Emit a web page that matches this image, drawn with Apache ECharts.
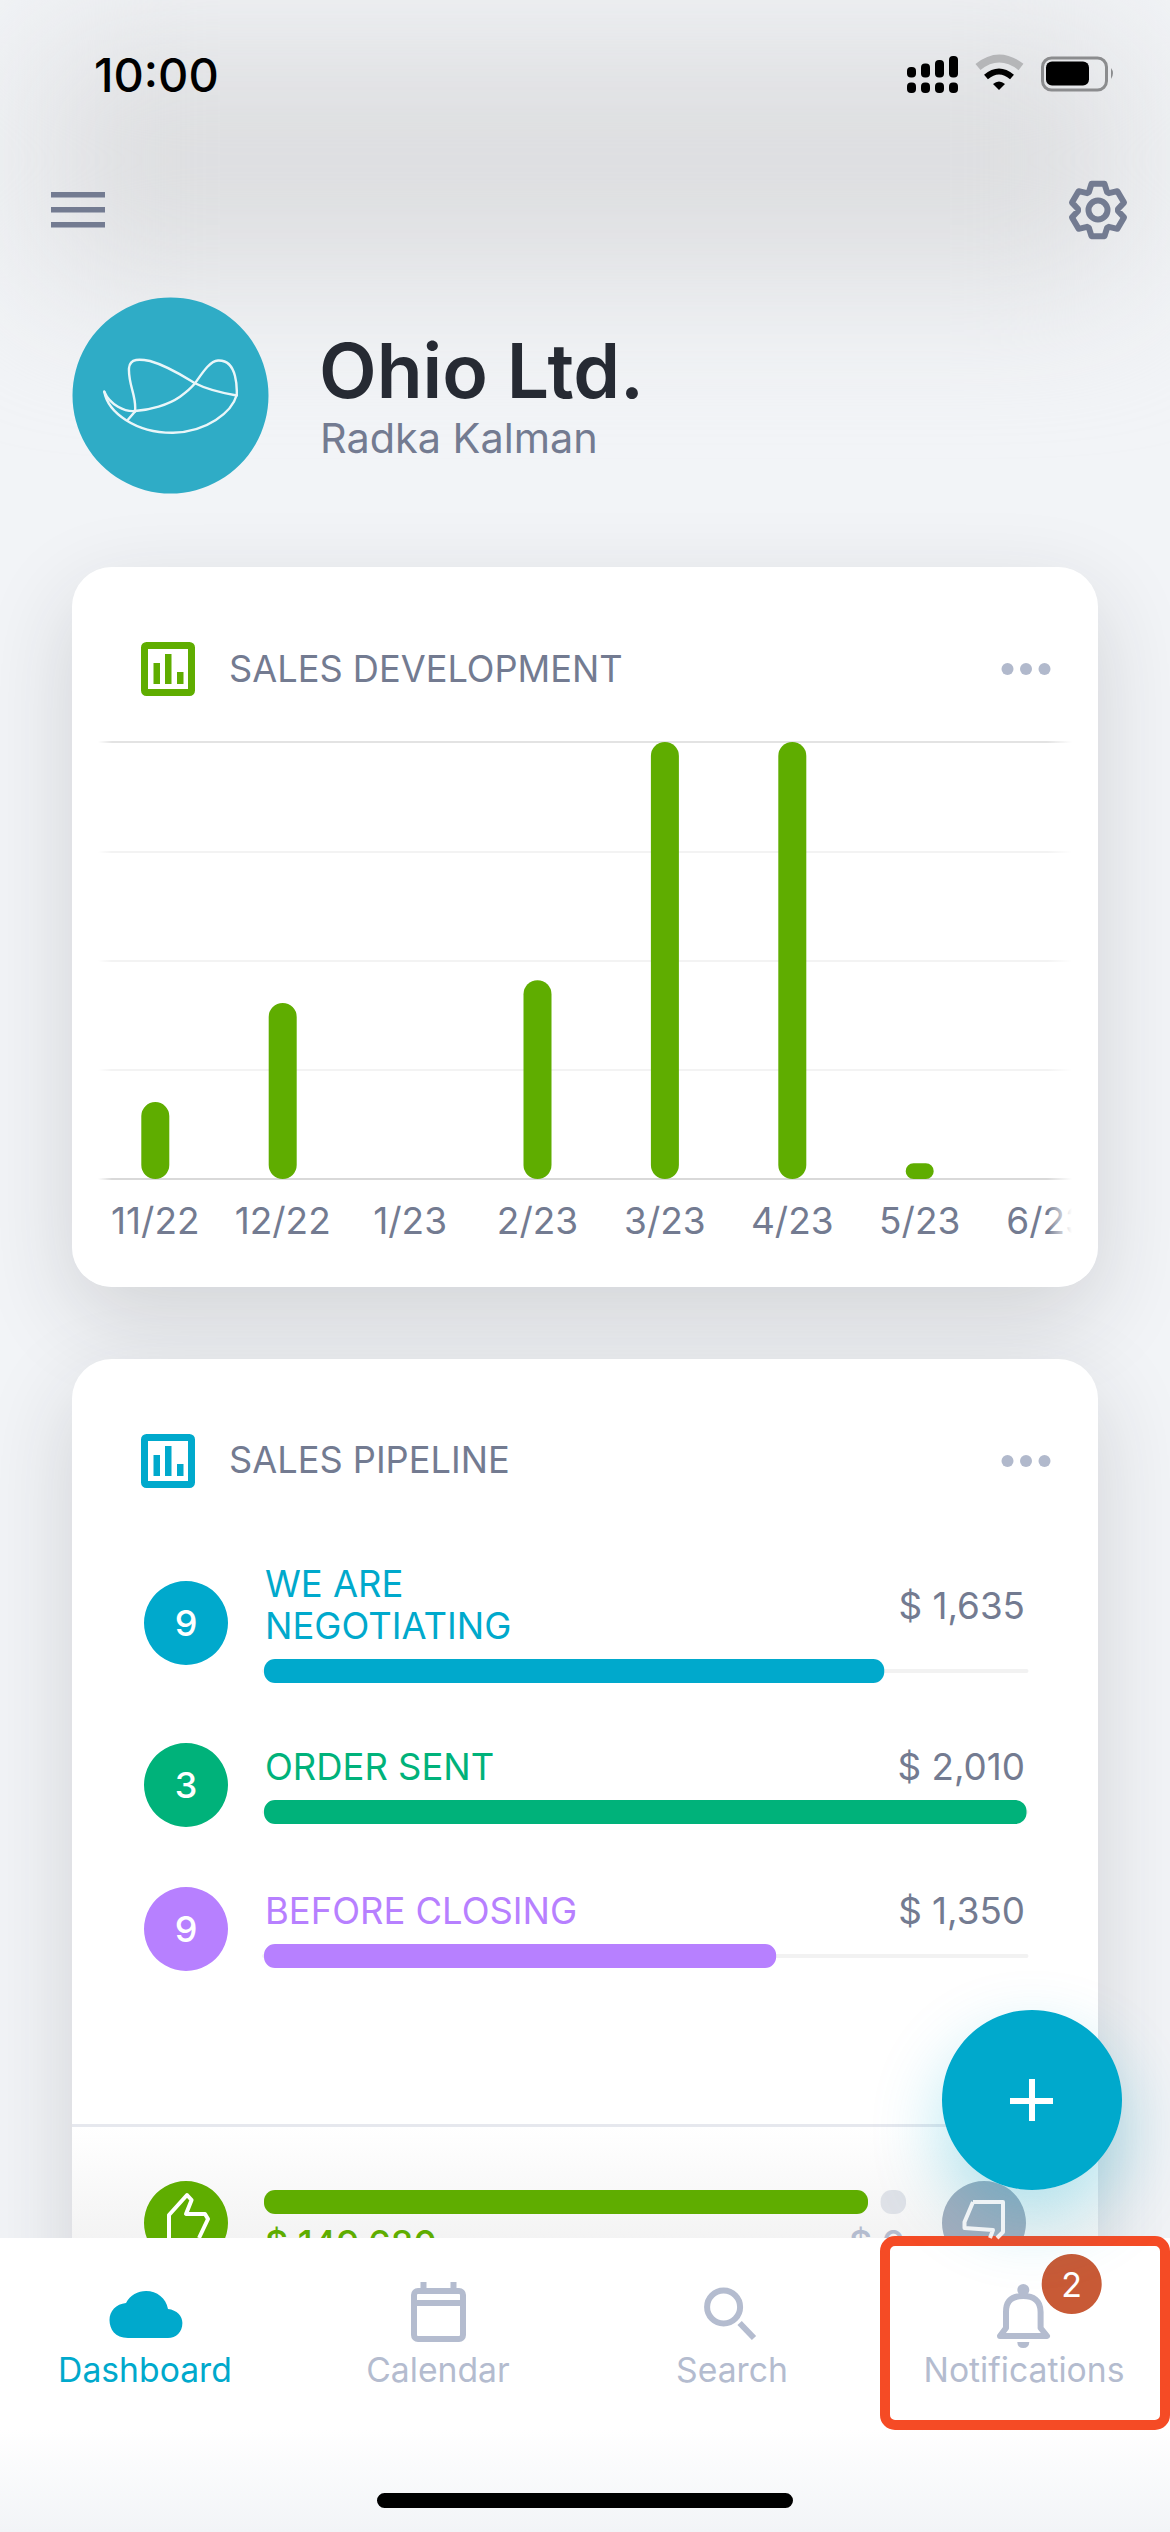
<!DOCTYPE html>
<html>
<head>
<meta charset="utf-8">
<title>Ohio Ltd.</title>
<script src="https://cdn.jsdelivr.net/npm/echarts@6/dist/echarts.min.js"></script>
<style>
  html, body { margin: 0; padding: 0; width: 1170px; height: 2532px; overflow: hidden; background: #f2f4f7; }
  #haze { position: absolute; left: 40px; top: 40px; width: 1090px; height: 240px; background: #dcdddf; filter: blur(75px); }
  .cardShadow { position: absolute; left: 72px; width: 1026px; border-radius: 40px; box-shadow: 0 30px 90px rgba(40, 40, 45, 0.16); }
  #fabGlow { position: absolute; left: 942px; top: 2010px; width: 180px; height: 180px; border-radius: 50%; box-shadow: 0 30px 70px rgba(0, 169, 204, 0.3); pointer-events: none; }
  #page, #salesClip, #icons { position: absolute; }
  #page { left: 0; top: 0; width: 1170px; height: 2532px; }
  #salesClip { left: 72px; top: 567px; width: 1026px; height: 720px; overflow: hidden; }
  #sales { width: 1080px; height: 720px; }
  #icons { left: 0; top: 0; width: 1170px; height: 2532px; pointer-events: none; }
</style>
</head>
<body>
<div id="haze"></div>
<div class="cardShadow" style="top: 567px; height: 720px"></div>
<div class="cardShadow" style="top: 1359px; height: 960px"></div>
<div id="page"></div>
<div id="salesClip"><div id="sales"></div></div>
<div id="fabGlow"></div>
<svg id="icons" viewBox="0 0 1170 2532" fill="none" stroke-linejoin="round">
  <!-- status bar -->
  <g fill="#000">
    <rect x="907" y="82.5" width="9" height="10.5" rx="4"/><rect x="921" y="82.5" width="9" height="10.5" rx="4"/>
    <rect x="935" y="82.5" width="9" height="10.5" rx="4"/><rect x="949" y="82.5" width="9" height="10.5" rx="4"/>
    <rect x="907" y="67" width="9" height="10.5" rx="4"/><rect x="921" y="63.5" width="9" height="14" rx="4"/>
    <rect x="935" y="60" width="9" height="17.5" rx="4"/><rect x="949" y="56" width="9" height="21.5" rx="4"/>
    <path d="M993 84 Q999 79 1005 84 L999 90 Z"/>
    <rect x="1046" y="61.5" width="43" height="24" rx="6"/>
  </g>
  <path d="M978 67 Q999 50 1021 67" stroke="#b5b6b8" stroke-width="8"/>
  <path d="M986 77 Q999 66 1012 77" stroke="#000" stroke-width="6"/>
  <rect x="1042.5" y="58" width="64" height="32" rx="9" stroke="#8b8c8e" stroke-width="3"/>
  <path d="M1111 68 Q1115 73 1111 79 Z" fill="#8b8c8e"/>
  <!-- header -->
  <g fill="#737b91">
    <rect x="51" y="192" width="54" height="5.5"/><rect x="51" y="207" width="54" height="5.5"/><rect x="51" y="222" width="54" height="5.5"/>
  </g>
  <path id="gear" stroke="#737b91" stroke-width="6"/>
  <circle cx="1098" cy="210" r="9.5" stroke="#737b91" stroke-width="6"/>
  <!-- avatar logo -->
  <g stroke="#fff" stroke-width="2.4" opacity="0.9" stroke-linecap="round">
    <path d="M104.3 391.7 C110 405 125 412 135 411 C150 410 168 405 180 396.7 C188 391 192 387 195 383.3 C203 372 210 361 218 360.5 C228 360 233 368 235 376 C237 384 237 390 236.7 395"/>
    <path d="M135 411.5 C137 396 128 385 129 368 C130 358 140 359 150 361 C168 366 183 376 195 383.3 C208 390 222 393 236.7 395.5"/>
    <path d="M104.3 391.7 C108 412 135 433 173 432.7 C207 432 232 412 236.7 395"/>
    <path d="M127.7 420 L135 411.5"/>
  </g>
  <!-- card icons -->
  <rect x="144.5" y="645.5" width="47" height="47" rx="2" stroke="#5fad00" stroke-width="7"/>
  <g fill="#5fad00"><rect x="153.5" y="663" width="6.5" height="21"/><rect x="165" y="654" width="6.5" height="30"/><rect x="177" y="672" width="6.5" height="12"/></g>
  <rect x="144.5" y="1437.5" width="47" height="47" rx="2" stroke="#00a9cc" stroke-width="7"/>
  <g fill="#00a9cc"><rect x="153.5" y="1455" width="6.5" height="21"/><rect x="165" y="1446" width="6.5" height="30"/><rect x="177" y="1464" width="6.5" height="12"/></g>
  <g fill="#b1b9cc">
    <circle cx="1007.5" cy="669" r="6"/><circle cx="1026" cy="669" r="6"/><circle cx="1044.5" cy="669" r="6"/>
    <circle cx="1007.5" cy="1461" r="6"/><circle cx="1026" cy="1461" r="6"/><circle cx="1044.5" cy="1461" r="6"/>
  </g>
  <!-- thumbs, cut by the tab bar -->
  <path d="M169 2238 L169 2215 L187 2195 L191.6 2200 L186 2214 L205 2214 L208 2219 L199 2238" stroke="#fff" stroke-width="4"/>
  <path d="M973 2202 L1003 2202 L1003 2232 L997 2238 M973 2202 L964.5 2222 L964.5 2228 L993 2230 L990 2238" stroke="#fff" stroke-width="4" opacity="0.85"/>
  <!-- tab bar -->
  <path d="M128 2338 C115 2338 109.5 2329 109.5 2320 C109.5 2311 116 2304 126 2303 C130 2295 138 2291 146 2291 C157 2291 166 2298 168 2309 C177 2310 182.4 2316 182.4 2323 C182.4 2332 176 2338 168 2338 Z" fill="#00a9cc"/>
  <g stroke="#b4bccf" stroke-width="6">
    <rect x="414" y="2291" width="49" height="48" rx="4"/>
    <path d="M414 2303 L463 2303 M423.5 2282 L423.5 2290 M453.5 2282 L453.5 2290"/>
    <circle cx="723.6" cy="2307" r="16.5"/>
    <path d="M739.6 2323 L754 2338"/>
    <path d="M1000 2336 L1006 2328 L1006 2312 C1006 2300 1013 2296 1023.3 2296 C1033 2296 1040.6 2300 1040.6 2312 L1040.6 2328 L1047 2336 Z"/>
  </g>
  <circle cx="1023.3" cy="2290" r="6" fill="#b4bccf"/>
  <path d="M1017.3 2342 L1029.3 2342 Q1029 2348 1023.3 2348 Q1017.5 2348 1017.3 2342 Z" fill="#b4bccf"/>
  <rect x="1010" y="2098" width="43" height="6" fill="#fff"/>
  <rect x="1029" y="2079" width="6" height="42" fill="#fff"/>
</svg>
<script>
  const salesMonths = ['11/22', '12/22', '1/23', '2/23', '3/23', '4/23', '5/23', '6/23']
  const salesValues = [17.6, 40.3, 0, 45.5, 100, 100, 3.6, 0]
  const salesTicks = { max: 100, interval: 25 }

  const stageNames = ['WE ARE\nNEGOTIATING', 'ORDER SENT', 'BEFORE CLOSING']
  const stageCounts = [9, 3, 9]
  const stageAmounts = [1635, 2010, 1350]
  const stageColors = ['#00a9cc', '#00b27a', '#b780ff']

  const wonAmount = 149680
  const lostAmount = 0

  const tabNames = ['Dashboard', 'Calendar', 'Search', 'Notifications']
  const unreadNotifications = 2

  const FONT = 'Inter, "Noto Sans", sans-serif'
  const GREY = '#737b91'
  const GREEN = '#5fad00'
  const TAB_GREY = '#b4bccf'

  const money = (v) => '$ ' + v.toLocaleString('en-US')

  function text(str, x, y, size, fill, opts = {}) {
    return {
      type: 'text',
      z: opts.z || 2,
      style: {
        text: str,
        x,
        y,
        fontFamily: FONT,
        fontSize: size,
        fontWeight: opts.weight || 400,
        fill,
        textAlign: opts.align || 'left',
        textVerticalAlign: 'middle',
        lineHeight: opts.lineHeight,
      },
    }
  }
  function circle(cx, cy, r, fill, z = 2) {
    return { type: 'circle', z, shape: { cx, cy, r }, style: { fill } }
  }
  function rect(x, y, width, height, fill, z = 1, r = 0, style = {}) {
    return { type: 'rect', z, shape: { x, y, width, height, r }, style: { fill, ...style } }
  }
  function vertical(from, to) {
    return { type: 'linear', x: 0, y: 0, x2: 0, y2: 1, colorStops: [{ offset: 0, color: from }, { offset: 1, color: to }] }
  }
  function horizontal(from, to) {
    return { type: 'linear', x: 0, y: 0, x2: 1, y2: 0, colorStops: [{ offset: 0, color: from }, { offset: 1, color: to }] }
  }

  // gear outline
  ;(function () {
    let d = ''
    for (let i = 0; i < 6; i++) {
      const a = -90 + i * 60
      const pts = [[-27, 20], [-14, 27], [14, 27], [27, 20]]
      pts.forEach((p, k) => {
        const t = ((a + p[0]) * Math.PI) / 180
        d += (i === 0 && k === 0 ? 'M' : 'L') + (1098 + p[1] * Math.cos(t)).toFixed(1) + ' ' + (210 + p[1] * Math.sin(t)).toFixed(1) + ' '
      })
    }
    document.getElementById('gear').setAttribute('d', d + 'Z')
  })()

  // sales development, wider than the card: the last month runs under the fade
  const salesChart = echarts.init(document.getElementById('sales'), null, { renderer: 'svg' })
  salesChart.setOption({
    animation: false,
    grid: { left: 19.6, top: 175, width: 1019.2, height: 437 },
    xAxis: {
      type: 'category',
      data: salesMonths,
      axisTick: { show: false },
      axisLine: { lineStyle: { color: '#d9d9d9', width: 2 } },
      axisLabel: { color: GREY, fontFamily: FONT, fontSize: 37, margin: 23, interval: 0 },
    },
    yAxis: {
      type: 'value',
      min: 0,
      max: salesTicks.max,
      interval: salesTicks.interval,
      axisLabel: { show: false },
      axisLine: { show: false },
      axisTick: { show: false },
      splitLine: { lineStyle: { color: ['#d9d9d9', '#f3f3f3', '#f3f3f3', '#f3f3f3', '#e3e3e3'], width: 2 } },
    },
    series: [
      {
        type: 'bar',
        data: salesValues,
        barWidth: 28,
        z: 6,
        itemStyle: { color: GREEN, borderRadius: 14 },
      },
    ],
    graphic: [
      rect(0, 160, 26, 515, '#fff', 10),
      rect(26, 160, 14, 515, horizontal('rgba(255,255,255,1)', 'rgba(255,255,255,0)'), 10),
      rect(975, 160, 25, 515, horizontal('rgba(255,255,255,0)', 'rgba(255,255,255,1)'), 10),
      rect(1000, 160, 80, 515, '#fff', 10),
    ],
  })

  // page: cards, pipeline rows, tab bar
  const barCenters = [1671, 1812, 1956]
  const circleCenters = [1623, 1785, 1929]
  const labelCenters = [1605, 1767, 1911]
  const amountCenters = [1605, 1766, 1910]
  const maxAmount = Math.max(...stageAmounts)

  const grids = barCenters.map((c) => ({ left: 264, width: 762.5, top: c - 12, height: 24 }))
  const xAxes = stageAmounts.map((_, i) => ({
    type: 'value',
    gridIndex: i,
    min: 0,
    max: maxAmount,
    offset: -12,
    z: 5,
    axisLine: { show: true, lineStyle: { color: '#f2f2f2', width: 4 } },
    axisTick: { show: false },
    axisLabel: { show: false },
    splitLine: { show: false },
  }))
  const yAxes = stageAmounts.map((_, i) => ({ type: 'category', gridIndex: i, data: [stageNames[i]], show: false }))
  const series = stageAmounts.map((v, i) => ({
    type: 'bar',
    xAxisIndex: i,
    yAxisIndex: i,
    data: [v],
    barWidth: 24,
    z: 6,
    itemStyle: { color: stageColors[i], borderRadius: 11 },
  }))

  // won / lost row under the divider
  grids.push({ left: 264, width: 604, top: 2190, height: 24 }, { left: 880.6, width: 25.4, top: 2190, height: 24 })
  ;[wonAmount, lostAmount].forEach((v, k) => {
    const i = 3 + k
    xAxes.push({ type: 'value', gridIndex: i, min: 0, max: wonAmount, show: false })
    yAxes.push({ type: 'category', gridIndex: i, data: [k ? 'lost' : 'won'], show: false })
    series.push({
      type: 'bar',
      xAxisIndex: i,
      yAxisIndex: i,
      data: [v],
      barWidth: 24,
      barMinHeight: 25.4,
      z: 6,
      itemStyle: { color: k ? '#dee1e7' : GREEN, borderRadius: 11 },
    })
  })

  const tabCenters = [145, 438, 732, 1024]
  const graphic = [
    rect(72, 567, 1026, 720, '#fff', 1, 40),
    rect(72, 1359, 1026, 960, '#fff', 1, 40),
    rect(72, 2127, 1026, 115, vertical('#ffffff', '#f3f3f3'), 1),
    rect(72, 2124, 1026, 3, '#e6e8ee', 1),

    text('10:00', 94, 74, 47, '#000', { weight: 500 }),
    circle(170.5, 395.5, 98, '#2facc6'),
    text('Ohio Ltd.', 319, 370, 75, '#262a33', { weight: 600 }),
    text('Radka Kalman', 320, 438, 41.4, GREY),
    text('SALES DEVELOPMENT', 229, 669, 36.2, GREY),
    text('SALES PIPELINE', 229, 1460, 36.2, GREY),

    circle(186, 2223, 42, GREEN),
    circle(984, 2223, 42, '#a3adbd'),
    text(money(wonAmount), 265, 2243, 36, GREEN, { weight: 500 }),
    text(money(lostAmount), 905, 2243, 36, TAB_GREY, { weight: 500, align: 'right' }),

    // tab bar
    rect(0, 2238, 1170, 192, '#fff', 20),
    rect(0, 2430, 1170, 102, vertical('#ffffff', '#f2f4f7'), 1),
    rect(377, 2493, 416, 15, '#000', 21, 7.5),
    circle(1032, 2100, 90, '#00a9cc', 22),
    rect(885, 2241, 280, 184, 'transparent', 23, 10, { stroke: '#f54b25', lineWidth: 10 }),
    circle(1071.7, 2284, 30, '#c85a36', 24),
    text(String(unreadNotifications), 1071.7, 2284, 34, '#fff', { align: 'center', z: 25 }),
  ]
  stageNames.forEach((name, i) => {
    graphic.push(
      circle(186, circleCenters[i], 42, stageColors[i]),
      text(String(stageCounts[i]), 186, circleCenters[i], 36, '#fff', { align: 'center', weight: 500 }),
      text(name, 265, labelCenters[i], 36.4, stageColors[i], { lineHeight: 42 }),
      text(money(stageAmounts[i]), 1025, amountCenters[i], 36.8, GREY, { align: 'right' }),
    )
  })
  tabNames.forEach((name, i) => {
    graphic.push(text(name, tabCenters[i], 2369, 33.7, i ? TAB_GREY : '#00a9cc', { align: 'center', z: 21 }))
  })

  const pageChart = echarts.init(document.getElementById('page'), null, { renderer: 'svg' })
  pageChart.setOption({ animation: false, grid: grids, xAxis: xAxes, yAxis: yAxes, series, graphic })
</script>
</body>
</html>
